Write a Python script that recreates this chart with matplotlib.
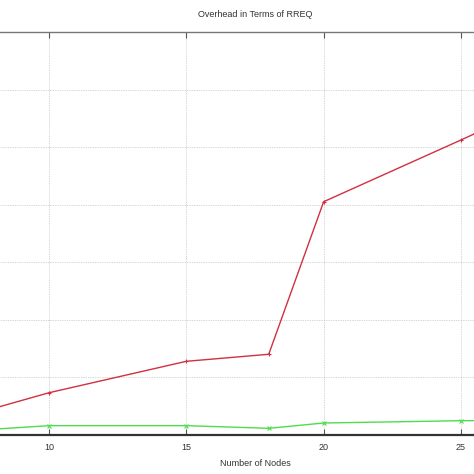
import matplotlib
matplotlib.use("Agg")
import matplotlib.pyplot as plt

nodes = [5, 10, 15, 18, 20, 25, 30]
red_series = [30, 367, 640, 701, 2026, 2562, 3110]
green_series = [5, 81, 81, 58, 104, 124, 132]
x_ticks = [10, 15, 20, 25]
y_ticks = [0, 500, 1000, 1500, 2000, 2500, 3000, 3500]

plt.rcParams['font.family'] = ['Liberation Sans', 'DejaVu Sans']

fig = plt.figure(figsize=(4.74, 4.74), dpi=100)
ax = fig.add_axes([-0.1863, 0.0823, 1.4485, 0.8502])

ax.plot(nodes, red_series, color='#d03040', lw=1.0, marker='+', ms=3, mew=0.8)
ax.plot(nodes, green_series, color='#4ddd4d', lw=1.0, marker='x', ms=3, mew=0.8)

ax.set_xlim(5, 30)
ax.set_ylim(0, 3500)
ax.set_xticks(x_ticks)
ax.set_yticks(y_ticks)
ax.set_yticklabels([])
ax.grid(True, linestyle=(0, (1, 1.5)), color='#b0b0b0', lw=0.5)
ax.tick_params(direction='in', top=True, length=4, color='#555555', labelsize=6.5, labelcolor='#333333', pad=6)
ax.spines['bottom'].set_linewidth(1.6)
ax.spines['bottom'].set_color('#333333')
ax.spines['top'].set_linewidth(1.0)
ax.spines['top'].set_color('#777777')
ax.set_title('Overhead in Terms of RREQ', fontsize=6.5, color='#333333', pad=11)
ax.set_xlabel('Number of Nodes', fontsize=6.5, color='#333333', labelpad=5)

fig.savefig('out.png', dpi=100)
